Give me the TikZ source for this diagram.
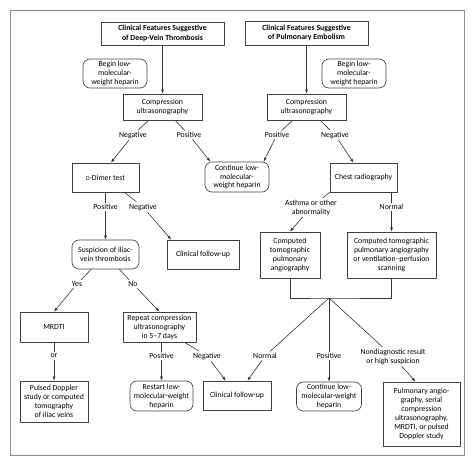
\documentclass[tikz,border=0pt]{standalone}
\usepackage{fontspec}
\setmainfont{Carlito}
\usetikzlibrary{arrows.meta,calc}
\begin{document}
\begin{tikzpicture}[x=1bp,y=-1bp,
  every node/.style={font=\fontsize{7.8}{9}\selectfont, text=black},
  box/.style={draw=black!75, line width=0.65pt, align=center, inner sep=1pt},
  rbox/.style={box, rounded corners=7bp},
  title/.style={box, font=\fontsize{7.8}{9.4}\selectfont\bfseries},
  lbl/.style={align=center, inner sep=1.5pt, fill=white},
  conn/.style={draw=black!80, line width=0.6pt},
  arr/.style={conn, -{Latex[length=4pt,width=3pt]}}
]
\useasboundingbox (0,0) rectangle (474,466);
\draw[black!45, line width=0.8pt] (10,10) rectangle (464,455);

% boxes
\node[title, minimum width=123bp, minimum height=23bp] (dvt) at (162.5,33.5) {Clinical Features Suggestive\\of Deep-Vein Thrombosis};
\node[title, minimum width=123bp, minimum height=24bp] (pe) at (306.5,33) {Clinical Features Suggestive\\of Pulmonary Embolism};
\node[rbox, minimum width=64bp, minimum height=29bp] (beginL) at (115,73.5) {Begin low-\\molecular-\\weight heparin};
\node[rbox, minimum width=64bp, minimum height=29bp] (beginR) at (354,73.5) {Begin low-\\molecular-\\weight heparin};
\node[box, minimum width=79bp, minimum height=26bp] (cusL) at (162.5,107) {Compression\\ultrasonography};
\node[box, minimum width=79bp, minimum height=26bp] (cusR) at (306.5,107) {Compression\\ultrasonography};
\node[box, minimum width=67bp, minimum height=29bp] (ddimer) at (105.5,177.5) {{\fontsize{5.8}{9}\selectfont D}-Dimer test};
\node[rbox, minimum width=64bp, minimum height=30bp] (cont) at (237,177) {Continue low-\\molecular-\\weight heparin};
\node[box, minimum width=67bp, minimum height=29bp] (chest) at (363.5,177.5) {Chest radiography};
\node[rbox, minimum width=67bp, minimum height=29bp] (susp) at (105.5,254.5) {Suspicion of iliac-\\vein thrombosis};
\node[box, minimum width=72bp, minimum height=29bp] (cfu1) at (203,254.5) {Clinical follow-up};
\node[box, minimum width=60bp, minimum height=46bp] (ct) at (290,255) {Computed\\tomographic\\pulmonary\\angiography};
\node[box, minimum width=89bp, minimum height=46bp] (ctvq) at (391.5,255) {Computed tomographic\\pulmonary angiography\\or ventilation--perfusion\\scanning};
\node[box, minimum width=68bp, minimum height=30bp] (mrdti) at (54,327) {MRDTI};
\node[box, minimum width=73bp, minimum height=30bp] (rep) at (159.5,327) {Repeat compression\\ultrasonography\\in 5--7 days};
\node[box, minimum width=68bp, minimum height=41bp] (pulsed) at (54,401.5) {Pulsed Doppler\\study or computed\\tomography\\of iliac veins};
\node[rbox, minimum width=63bp, minimum height=30bp] (restart) at (161.5,396) {Restart low-\\molecular-weight\\heparin};
\node[box, minimum width=68bp, minimum height=29bp] (cfu2) at (237,395.5) {Clinical follow-up};
\node[rbox, minimum width=65bp, minimum height=29bp] (cont2) at (329,396.5) {Continue low-\\molecular-weight\\heparin};
\node[box, minimum width=77bp, minimum height=64bp] (pulm) at (421.5,414) {Pulmonary angio-\\graphy, serial\\compression\\ultrasonography,\\MRDTI, or pulsed\\Doppler study};

% labels
\node[lbl] (negL) at (133,135) {Negative};
\node[lbl] (posL) at (189,135) {Positive};
\node[lbl] (posR) at (277,135) {Positive};
\node[lbl] (negR) at (335,135) {Negative};
\node[lbl] (posD) at (105.5,207) {Positive};
\node[lbl] (negD) at (143,207) {Negative};
\node[lbl] (asthma) at (311,207.5) {Asthma or other\\abnormality};
\node[lbl] (normal1) at (391.5,207) {Normal};
\node[lbl] (yes) at (77,284) {Yes};
\node[lbl] (no) at (133,284) {No};
\node[lbl] (lor) at (54,356) {or};
\node[lbl] (posRep) at (161.5,356) {Positive};
\node[lbl] (negRep) at (207,356) {Negative};
\node[lbl] (normal2) at (265,356) {Normal};
\node[lbl] (pos2) at (329,356) {Positive};
\node[lbl] (nondiag) at (393,356.5) {Nondiagnostic result\\or high suspicion};

\coordinate (m) at (329,298);

% connectors
\draw[arr] (dvt) -- (cusL);
\draw[arr] (pe) -- (cusR);
\draw[conn] (cusL) -- (negL); \draw[arr] (negL) -- (ddimer.70);
\draw[conn] (cusL) -- (posL); \draw[arr] (posL) -- (cont.150);
\draw[conn] (cusR) -- (posR); \draw[arr] (posR) -- (cont.30);
\draw[conn] (cusR) -- (negR); \draw[arr] (negR) -- (chest);
\draw[conn] (ddimer) -- (posD); \draw[arr] (posD) -- (susp);
\draw[conn] (ddimer) -- (negD); \draw[arr] (negD) -- (cfu1.155);
\draw[conn] (chest.south west) -- (asthma); \draw[arr] (asthma) -- (ct.north);
\draw[conn] (normal1 |- chest.south) -- (normal1); \draw[arr] (normal1) -- (ctvq.north);
\draw[conn] (susp) -- (yes); \draw[arr] (yes) -- (mrdti.north);
\draw[conn] (susp) -- (no); \draw[arr] (no) -- (rep.north);
\draw[conn] (mrdti) -- (lor); \draw[arr] (lor) -- (pulsed);
\draw[conn] (posRep |- rep.south) -- (posRep); \draw[arr] (posRep) -- (restart);
\draw[conn] (rep) -- (negRep); \draw[arr] (negRep) -- (cfu2);
\draw[conn] (ct.south) |- (m) -| (ctvq.south);
\draw[conn] (m) -- (normal2); \draw[arr] (normal2) -- (cfu2);
\draw[conn] (m) -- (pos2); \draw[arr] (pos2) -- (cont2);
\draw[conn] (m) -- (nondiag); \draw[arr] (nondiag) -- ($(pulm.north)+(-6,0)$);
\end{tikzpicture}
\end{document}
